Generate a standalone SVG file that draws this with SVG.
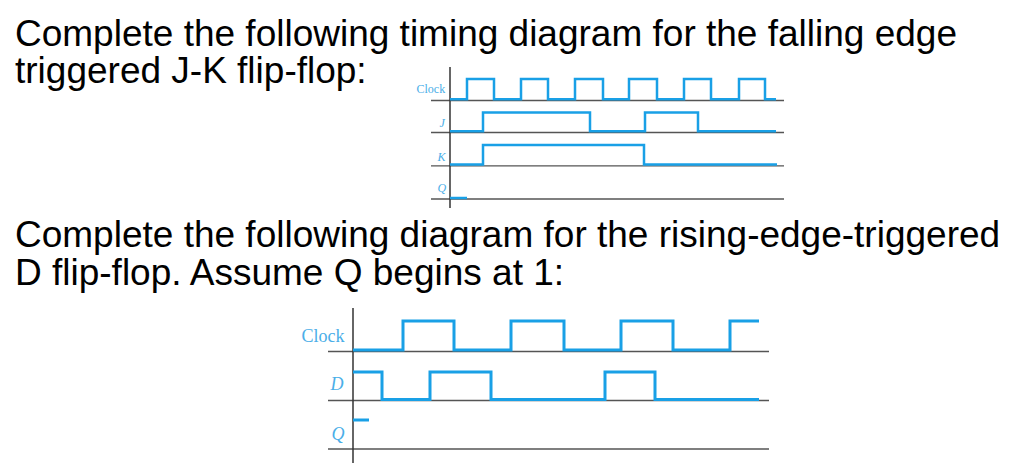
<svg xmlns="http://www.w3.org/2000/svg" width="1024" height="469" viewBox="0 0 1024 469">
<style>
.q{font-family:"Liberation Sans",Arial,sans-serif;font-size:37px;fill:#000}
.lbl{font-family:"Liberation Serif","Times New Roman",serif;fill:#4aaee8}
.it{font-style:italic}
.axis{stroke:#333;stroke-width:1.5;fill:none}
.base{stroke:#555;stroke-width:1.3;fill:none}
.sig{stroke:#19a0e6;stroke-width:2.5;fill:none;stroke-linejoin:miter}
.sig2{stroke:#19a0e6;stroke-width:3;fill:none;stroke-linejoin:miter}
</style>
<rect width="1024" height="469" fill="#fff"/>
<g id="questions">
<text class="q" x="15" y="46">Complete the following timing diagram for the falling edge</text>
<text class="q" x="15" y="83">triggered J-K flip-flop:</text>
<text class="q" x="15" y="247">Complete the following diagram for the rising-edge-triggered</text>
<text class="q" x="15" y="285">D flip-flop. Assume Q begins at 1:</text>
</g>
<g id="jk-diagram">
<g id="jk-labels">
<text class="lbl" x="416.5" y="92.5" font-size="12">Clock</text>
<text class="lbl it" x="439.5" y="126.5" font-size="12">J</text>
<text class="lbl it" x="437.5" y="161" font-size="12">K</text>
<text class="lbl it" x="437.5" y="192" font-size="12">Q</text>
</g>
<g id="jk-baselines">
<line class="base" x1="431" y1="100.5" x2="784" y2="100.5"/>
<line class="base" x1="431" y1="132.5" x2="784" y2="132.5"/>
<line class="base" x1="431" y1="165.8" x2="784" y2="165.8"/>
<line class="base" x1="431" y1="199" x2="784" y2="199"/>
<line class="axis" x1="450" y1="67" x2="450" y2="208"/>
</g>
<g id="jk-signals">
<path class="sig" d="M450,99.3 H467 V79 H494 V99.3 H521 V79 H548 V99.3 H575 V79 H603 V99.3 H629 V79 H657 V99.3 H684 V79 H711 V99.3 H739 V79 H765 V99.3 H776"/>
<path class="sig" d="M450,131.3 H483 V112.5 H590 V131.3 H645 V112.5 H698 V131.3 H776"/>
<path class="sig" d="M450,164.6 H483 V145 H644 V164.6 H777"/>
<path class="sig" d="M450,198 H467"/>
</g>
</g>
<g id="d-diagram">
<g id="d-labels">
<text class="lbl" x="301.5" y="342" font-size="18">Clock</text>
<text class="lbl it" x="330.5" y="390" font-size="18">D</text>
<text class="lbl it" x="331.5" y="440" font-size="18">Q</text>
</g>
<g id="d-baselines">
<line class="base" x1="328" y1="351.5" x2="769" y2="351.5"/>
<line class="base" x1="328" y1="400.5" x2="769" y2="400.5"/>
<line class="base" x1="328" y1="449" x2="769" y2="449"/>
<line class="axis" x1="353" y1="308" x2="353" y2="463"/>
</g>
<g id="d-signals">
<path class="sig2" d="M353,350 H403 V321 H454 V350 H511 V321 H564 V350 H621 V321 H673 V350 H730 V321 H759"/>
<path class="sig2" d="M353,372 H382 V399.5 H430 V372 H491 V399.5 H605 V372 H655 V399.5 H759"/>
<path class="sig2" d="M353,420 H369"/>
</g>
</g>
</svg>
